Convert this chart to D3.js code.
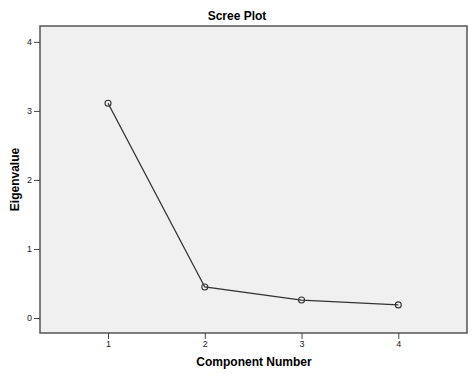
<!DOCTYPE html>
<html>
<head>
<meta charset="utf-8">
<script src="https://cdn.jsdelivr.net/npm/d3@7"></script>
<style>
	body { margin: 0; background: #fff; }
	text { font-family: "Liberation Sans", Arial, sans-serif; }
</style>
</head>
<body>
<div id="chart"></div>
<script>
const components = [1, 2, 3, 4];
const eigenvalues = [3.11, 0.45, 0.26, 0.19];
const y_ticks = [0, 1, 2, 3, 4];

const width = 474;
const height = 379;
const margin = { top: 26, right: 7, bottom: 46, left: 40 };

const svg = d3.select('#chart').append('svg')
	.attr('width', width)
	.attr('height', height);

const x = d3.scaleLinear()
	.domain([0.297, 4.71])
	.range([margin.left, width - margin.right]);

const y = d3.scaleLinear()
	.domain([-0.217, 4.23])
	.range([height - margin.bottom, margin.top]);

// plot frame
svg.append('rect')
	.attr('x', margin.left)
	.attr('y', margin.top)
	.attr('width', width - margin.left - margin.right)
	.attr('height', height - margin.top - margin.bottom)
	.style('fill', '#f0f0f0')
	.style('stroke', '#555')
	.style('stroke-width', 1.5);

const x_axis = svg.append('g')
	.attr('transform', `translate(0,${height - margin.bottom})`)
	.call(d3.axisBottom(x).tickValues(components).tickFormat(d3.format('d')).tickSize(6).tickPadding(2));

const y_axis = svg.append('g')
	.attr('transform', `translate(${margin.left},0)`)
	.call(d3.axisLeft(y).tickValues(y_ticks).tickFormat(d3.format('d')).tickSize(6).tickPadding(2));

[x_axis, y_axis].forEach(a => {
	a.select('.domain').remove();
	a.selectAll('line').style('stroke', '#444');
	a.selectAll('text')
		.style('font-size', '9px')
		.style('fill', '#222')
		.style('font-family', '"Liberation Sans", Arial, sans-serif');
});

const points = components.map((c, i) => ({ c, v: eigenvalues[i] }));

svg.append('path')
	.datum(points)
	.attr('d', d3.line().x(d => x(d.c)).y(d => y(d.v)))
	.style('fill', 'none')
	.style('stroke', '#333')
	.style('stroke-width', 1.3);

svg.append('g')
	.selectAll('circle')
	.data(points)
	.enter()
	.append('circle')
	.attr('cx', d => x(d.c))
	.attr('cy', d => y(d.v))
	.attr('r', 3)
	.style('fill', 'none')
	.style('stroke', '#333')
	.style('stroke-width', 1.1);

svg.append('text')
	.attr('x', 237)
	.attr('y', 20)
	.attr('text-anchor', 'middle')
	.style('font-size', '12px')
	.style('font-weight', 'bold')
	.text('Scree Plot');

svg.append('text')
	.attr('x', 254)
	.attr('y', 366)
	.attr('text-anchor', 'middle')
	.style('font-size', '12px')
	.style('font-weight', 'bold')
	.text('Component Number');

svg.append('text')
	.attr('transform', `translate(19,${(margin.top + height - margin.bottom) / 2}) rotate(-90)`)
	.attr('text-anchor', 'middle')
	.style('font-size', '12px')
	.style('font-weight', 'bold')
	.text('Eigenvalue');
</script>
</body>
</html>
